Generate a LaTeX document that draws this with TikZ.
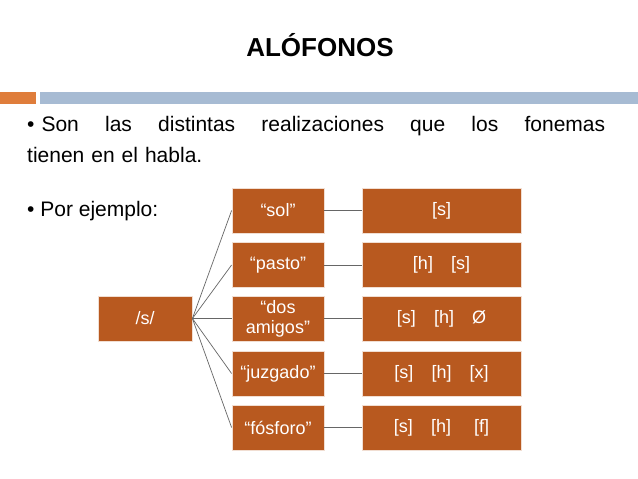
\documentclass[tikz,border=0pt]{standalone}
\usepackage{fontspec}
\setmainfont{Liberation Sans}
\definecolor{boxc}{HTML}{B8591F}
\definecolor{barblue}{HTML}{A7BBD3}
\definecolor{barorange}{HTML}{DF7D3B}
\begin{document}
\begin{tikzpicture}[x=1pt,y=-1pt,
  bx/.style={draw=white!80!boxc,line width=0.8pt,fill=boxc,text=white,align=center,font=\fontsize{18}{20}\selectfont,inner sep=0pt},
  ln/.style={draw=black!60,line width=0.7pt}]
\useasboundingbox (0,0) rectangle (638,479);
\fill[white] (0,0) rectangle (638,479);
\node[font=\fontsize{26}{30}\selectfont\bfseries] (title) at (320,45) {ALÓFONOS};
\fill[barorange] (0,92) rectangle (36,104);
\fill[barblue] (40,92) rectangle (638,104);
\node[anchor=west,font=\fontsize{21}{31}\selectfont,text width=578pt,align=left,inner sep=0pt] (t1) at (27,139) {\hbox to 578pt{•\ Son\hfill las\hfill distintas\hfill realizaciones\hfill que\hfill los\hfill fonemas}\\tienen en el habla.};
\node[anchor=west,font=\fontsize{21}{24}\selectfont,inner sep=0pt] (t2) at (27,211) {• Por ejemplo:};
\node[bx,minimum width=94pt,minimum height=45pt] (s) at (145,318.5) {/s/};
\foreach \n/\y/\a/\b in {a/210.5/“sol”/[s], b/265/“pasto”/{[h]\quad[s]}, c/318.5/{“dos\\amigos”}/{[s]\quad[h]\quad Ø}, d/373.5/“juzgado”/{[s]\quad[h]\quad[x]}, e/427.5/“fósforo”/{[s]\quad[h]\quad\ [f]}}{
  \node[bx,minimum width=92pt,minimum height=45pt] (m\n) at (278,\y) {\a};
  \node[bx,minimum width=159pt,minimum height=45pt] (r\n) at (441.5,\y) {\b};
  \draw[ln] (m\n.east) -- (r\n.west);
  \draw[ln] (s.east) -- (m\n.west);
}
\end{tikzpicture}
\end{document}
